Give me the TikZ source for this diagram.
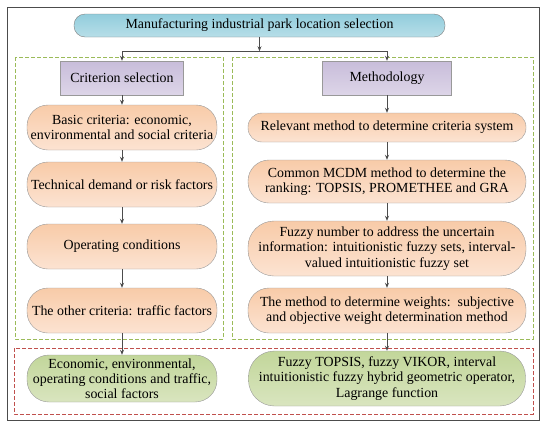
\documentclass[tikz,border=0pt]{standalone}
\usepackage{fontspec}
\setmainfont{Liberation Serif}
\usetikzlibrary{arrows.meta}
\definecolor{titletop}{HTML}{92CDDC}
\definecolor{titlebot}{HTML}{B7DEE8}
\definecolor{parttop}{HTML}{C8BDDA}
\definecolor{partbot}{HTML}{DDD5E8}
\definecolor{peachtop}{HTML}{F8CBA8}
\definecolor{peachbot}{HTML}{FCE3D2}
\definecolor{leaftop}{HTML}{C2D69A}
\definecolor{leafbot}{HTML}{D9E5BF}
\definecolor{groupgreen}{HTML}{9BBB59}
\definecolor{groupred}{HTML}{C0504D}
\begin{document}
\begin{tikzpicture}[x=1pt,y=-1pt,
every node/.style={font=\fontsize{13.9}{15.2}\selectfont,align=center,inner sep=0pt},
head/.style={draw=black!50,top color=titletop,bottom color=titlebot,rounded corners=11pt,minimum width=371pt,minimum height=23pt},
part/.style={draw=black!40,top color=parttop,bottom color=partbot,minimum height=34pt},
stage/.style={draw=black!40,top color=peachtop,bottom color=peachbot,rounded corners=#1},
stage/.default=21pt,
result/.style={draw=black!40,top color=leaftop,bottom color=leafbot,rounded corners=22pt},
group/.style={draw=groupgreen,dashed,dash pattern=on 4pt off 2pt,line width=0.8pt},
outgroup/.style={draw=groupred,dashed,dash pattern=on 4pt off 2pt,line width=0.7pt},
arr/.style={draw=black!70,line width=0.7pt,-{Stealth[length=5pt,width=4pt]}},
]
\useasboundingbox (0,0) rectangle (550,429);
\path[draw=black!70,line width=0.8pt] (7,7) rectangle (539,420);
\path[group] (15,57) rectangle (223,339)
    (232,57) rectangle (533,339);
\path[outgroup] (14,348) rectangle (533,414);

\node[head] (title) at (259.5,25.5) {Manufacturing industrial park location selection};
\node[part,minimum width=123pt] (crit) at (122,78) {Criterion selection};
\node[part,minimum width=129pt] (meth) at (387,78) {Methodology};

% criterion column
\node[stage,minimum width=190pt,minimum height=45pt] (basic) at (122,127.5)
    {Basic criteria: economic,\\environmental and social criteria};
\node[stage,minimum width=190pt,minimum height=45pt] (tech) at (122,184.5)
    {Technical demand or risk factors};
\node[stage,minimum width=190pt,minimum height=45pt] (oper) at (122,246.5)
    {Operating conditions};
\node[stage,minimum width=190pt,minimum height=45pt] (other) at (122,310.5)
    {The other criteria: traffic factors};

% methodology column
\node[stage=14pt,minimum width=278pt,minimum height=29pt] (relevant) at (387,127.5)
    {Relevant method to determine criteria system};
\node[stage,minimum width=278pt,minimum height=43pt] (mcdm) at (387,181.5)
    {Common MCDM method to determine the\\ranking: TOPSIS, PROMETHEE and GRA};
\node[stage=26pt,minimum width=278pt,minimum height=55pt] (fuzzy) at (387,248.5)
    {Fuzzy number to address the uncertain\\information: intuitionistic fuzzy sets, interval-\\valued intuitionistic fuzzy set};
\node[stage,minimum width=278pt,minimum height=45pt] (weights) at (387,310.5)
    {The method to determine weights:\ \ subjective\\and objective weight determination method};

% results
\node[result,minimum width=190pt,minimum height=47pt] (resL) at (122,378.5)
    {Economic, environmental,\\operating conditions and traffic,\\social factors};
\node[result,rounded corners=26pt,minimum width=277pt,minimum height=55pt] (resR) at (387,378.5)
    {Fuzzy TOPSIS, fuzzy VIKOR, interval\\intuitionistic fuzzy hybrid geometric operator,\\Lagrange function};

\path (title.south) ++(0,14) coordinate (split);
\draw[arr] (title.south) -- (split);
\draw[arr] (split) -| (crit.north);
\draw[arr] (split) -| (meth.north);
\draw[arr] (crit) -- (basic);
\draw[arr] (basic) -- (tech);
\draw[arr] (tech) -- (oper);
\draw[arr] (oper) -- (other);
\draw[arr] (other) -- (resL);
\draw[arr] (meth) -- (relevant);
\draw[arr] (relevant) -- (mcdm);
\draw[arr] (mcdm) -- (fuzzy);
\draw[arr] (fuzzy) -- (weights);
\draw[arr] (weights) -- (resR);
\end{tikzpicture}
\end{document}
